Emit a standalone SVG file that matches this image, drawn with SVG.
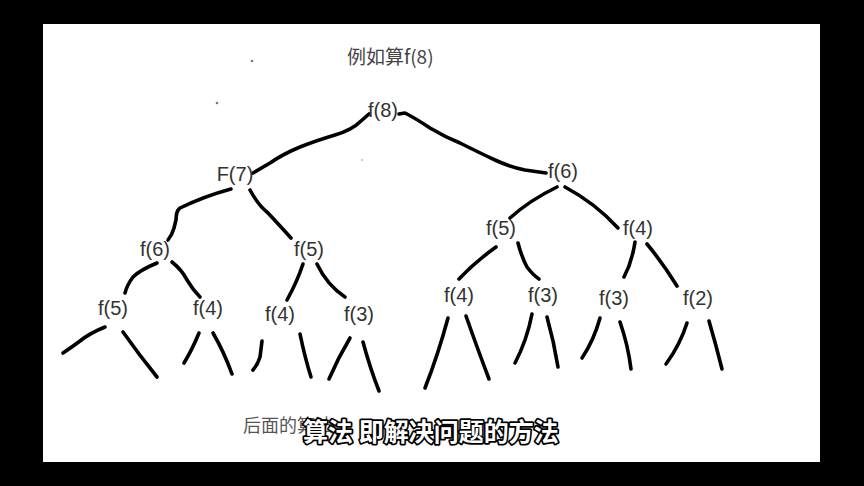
<svg xmlns="http://www.w3.org/2000/svg" width="864" height="486" viewBox="0 0 864 486">
  <defs>
    <style>
      .lbl { font-family: "Liberation Sans", "Noto Sans CJK SC", sans-serif; font-size: 20px; fill: #333; text-anchor: middle; }
      .edge { fill: none; stroke: #000; stroke-width: 3.6; stroke-linecap: round; stroke-linejoin: round; }
      .title { font-family: "Noto Sans CJK SC", "Liberation Sans", sans-serif; font-size: 19px; fill: #444; }
      .note { font-family: "Noto Sans CJK SC", sans-serif; font-size: 18px; fill: #555; }
      .sub { font-family: "Noto Sans CJK SC", sans-serif; font-size: 25px; font-weight: 700; fill: #fff; stroke: #000; stroke-width: 3.5; paint-order: stroke; stroke-linejoin: round; }
      .dot { fill: #777; }
    </style>
  </defs>
  <rect x="0" y="0" width="864" height="486" fill="#000"/>
  <rect x="43" y="24" width="777" height="438" fill="#fff"/>

  <g id="dots">
    <circle class="dot" cx="252" cy="61" r="1.3"/>
    <circle class="dot" cx="217" cy="103" r="1.3"/>
    <circle cx="362" cy="160" r="1" fill="#bbb"/>
  </g>

  <text id="title" class="title" x="347" y="64">例如算f(8)</text>

  <g id="connectors">
    <path class="edge" d="M369,114 L361,121 Q352,130 335,135 Q315,141 300,147 Q283,154 270,163 L253,173"/>
    <path class="edge" d="M399,114 L405,113 Q415,118 430,128 Q445,137 460,143 Q480,153 495,160 Q510,167 525,170 L546,173"/>
    <path class="edge" d="M231,189 Q205,196 180,208 Q176,211 176,220 L174,228 Q172,235 168,240"/>
    <path class="edge" d="M250,190 Q258,205 268,213 Q282,228 291,238"/>
    <path class="edge" d="M157,263 Q140,270 133,277 Q127,285 125,293"/>
    <path class="edge" d="M172,262 Q182,270 187,280 Q193,290 200,297"/>
    <path class="edge" d="M303,264 Q297,282 287,300"/>
    <path class="edge" d="M317,264 Q327,285 345,297"/>
    <path class="edge" d="M105,327 Q90,333 80,341 Q72,347 63,353"/>
    <path class="edge" d="M123,332 Q140,356 157,377"/>
    <path class="edge" d="M199,333 Q192,350 184,363"/>
    <path class="edge" d="M213,333 Q224,352 232,374"/>
    <path class="edge" d="M262,341 L260,357 Q258,364 253,370"/>
    <path class="edge" d="M300,334 Q305,358 311,377"/>
    <path class="edge" d="M350,338 Q338,358 329,379"/>
    <path class="edge" d="M363,342 Q370,368 379,391"/>
    <path class="edge" d="M557,187 Q530,200 510,218"/>
    <path class="edge" d="M565,187 Q595,203 618,228"/>
    <path class="edge" d="M496,247 Q475,262 459,279"/>
    <path class="edge" d="M518,243 Q522,258 527,267 Q533,275 539,279"/>
    <path class="edge" d="M635,242 Q632,262 624,277"/>
    <path class="edge" d="M647,244 Q662,262 677,286"/>
    <path class="edge" d="M448,318 Q438,355 425,388"/>
    <path class="edge" d="M466,316 Q478,350 489,379"/>
    <path class="edge" d="M532,314 Q527,340 515,363"/>
    <path class="edge" d="M547,317 Q554,342 558,367"/>
    <path class="edge" d="M600,318 Q594,340 582,358"/>
    <path class="edge" d="M620,322 Q628,345 631,369"/>
    <path class="edge" d="M687,323 Q680,345 666,364"/>
    <path class="edge" d="M709,321 Q716,345 722,369"/>
  </g>

  <g id="n_f8"><text class="lbl" x="383" y="117">f(8)</text></g>
  <g id="n_F7"><text class="lbl" x="235" y="181">F(7)</text></g>
  <g id="n_f6r"><text class="lbl" x="563" y="178">f(6)</text></g>
  <g id="n_f6l"><text class="lbl" x="155" y="256">f(6)</text></g>
  <g id="n_f5m"><text class="lbl" x="309" y="256">f(5)</text></g>
  <g id="n_f5r"><text class="lbl" x="501" y="235">f(5)</text></g>
  <g id="n_f4r"><text class="lbl" x="638" y="235">f(4)</text></g>
  <g id="n_f5ll"><text class="lbl" x="113" y="315">f(5)</text></g>
  <g id="n_f4a"><text class="lbl" x="208" y="315">f(4)</text></g>
  <g id="n_f4b"><text class="lbl" x="280" y="321">f(4)</text></g>
  <g id="n_f3a"><text class="lbl" x="359" y="321">f(3)</text></g>
  <g id="n_f4c"><text class="lbl" x="459" y="302">f(4)</text></g>
  <g id="n_f3b"><text class="lbl" x="543" y="302">f(3)</text></g>
  <g id="n_f3c"><text class="lbl" x="614" y="305">f(3)</text></g>
  <g id="n_f2"><text class="lbl" x="698" y="305">f(2)</text></g>

  <text id="note" class="note" x="243" y="432">后面的算法</text>
  <text id="subtitle" class="sub" x="303" y="441">算法 即解决问题的方法</text>
</svg>
